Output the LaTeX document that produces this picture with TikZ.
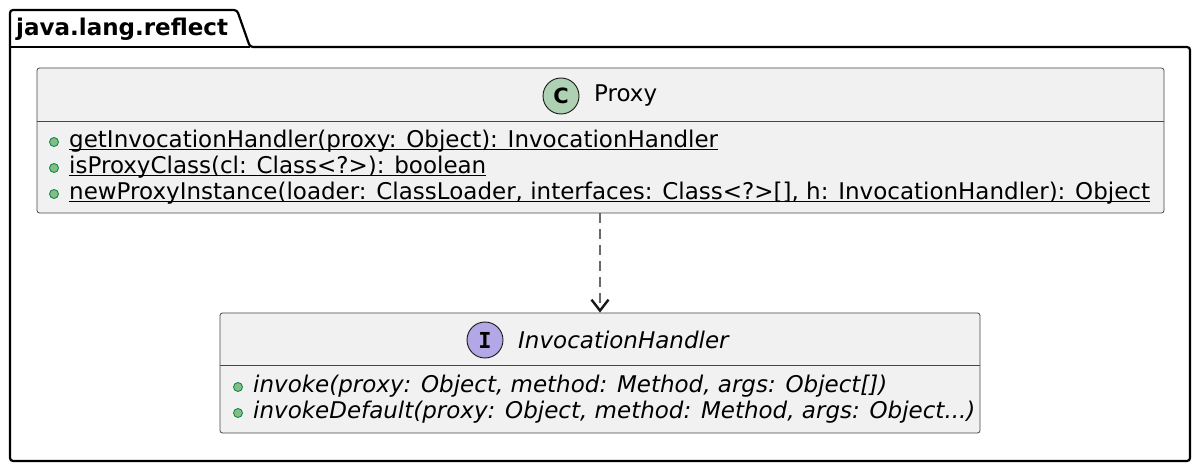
\documentclass[tikz,border=0pt]{standalone}
\usepackage{fontspec}
\setmainfont{DejaVu Sans}
\newfontfamily\monob{DejaVu Sans Mono}
\usetikzlibrary{arrows.meta}
\definecolor{boxfill}{HTML}{F1F1F1}
\definecolor{boxline}{HTML}{181818}
\definecolor{cfill}{HTML}{ADD1B2}
\definecolor{ifill}{HTML}{B4A7E5}
\definecolor{dotfill}{HTML}{84BE84}
\definecolor{dotline}{HTML}{038048}
\newcommand\ulx[1]{\setbox0\hbox{#1}\rlap{\rule[-3pt]{\wd0}{1pt}}\box0}
\tikzset{
  umlbox/.style={draw=boxline!80, fill=boxfill, line width=0.8pt, rounded corners=2.5pt, inner sep=0pt},
  divider/.style={draw=boxline!80, line width=0.8pt},
  mtext/.style={anchor=west, inner sep=0pt, font=\fontsize{23}{27}\selectfont},
  htext/.style={anchor=west, inner sep=0pt, font=\fontsize{23}{27}\selectfont},
  pubdot/.style={circle, fill=dotfill, draw=dotline, line width=0.8pt, minimum size=9pt, inner sep=0pt},
  icon/.style={circle, draw=boxline, line width=0.9pt, minimum size=36pt, inner sep=0pt},
  dep/.style={draw=boxline!65, line width=1.3pt, dash pattern=on 10pt off 6pt, -{Straight Barb[length=11pt,width=17pt,line width=2.4pt,color=boxline]}},
  pkg/.style={draw=black, line width=2.2pt, rounded corners=3pt}
}
\begin{document}
\begin{tikzpicture}[x=1pt,y=-1pt]
\useasboundingbox (0,0) rectangle (1200,470);
% package
\draw[pkg] (10,47) -- (10,10) -- (237,10) -- (250,47) -- (1190,47) -- (1190,461) -- (10,461) -- cycle;
\draw[line width=2.2pt] (10,47) -- (250,47);
\node[anchor=west, inner sep=0pt, font=\bfseries\fontsize{23}{27}\selectfont] (pkgname) at (16,29) {java.lang.reflect};
% Proxy class
\node[umlbox, minimum width=1127pt, minimum height=145pt] (proxy) at (600.5,140.5) {};
\draw[divider] (37,121) -- (1164,121);
\node[icon, fill=cfill, font=\bfseries\fontsize{21}{21}\selectfont] (cicon) at (561,96) {C};
\node[htext] (proxyname) at (594,96) {Proxy};
\node[pubdot] (d1) at (54,142) {};
\node[pubdot] (d2) at (54,168) {};
\node[pubdot] (d3) at (54,194) {};
\node[mtext] (m1) at (69,141) {\ulx{getInvocationHandler(proxy: Object): InvocationHandler}};
\node[mtext] (m2) at (69,167) {\ulx{isProxyClass(cl: Class<?>): boolean}};
\node[mtext] (m3) at (69,193) {\ulx{newProxyInstance(loader: ClassLoader, interfaces: Class<?>[], h: InvocationHandler): Object}};
% InvocationHandler interface
\node[umlbox, minimum width=760pt, minimum height=120pt] (ih) at (600,373) {};
\draw[divider] (220,365) -- (980,365);
\node[icon, fill=ifill, font=\monob\bfseries\fontsize{22}{22}\selectfont] (iicon) at (485,340) {I};
\node[htext, font=\itshape\fontsize{23}{27}\selectfont] (ihname) at (518,340) {InvocationHandler};
\node[pubdot] (d4) at (238,387) {};
\node[pubdot] (d5) at (238,413) {};
\node[mtext, font=\itshape\fontsize{23}{27}\selectfont] (m4) at (253,386) {invoke(proxy: Object, method: Method, args: Object[])};
\node[mtext, font=\itshape\fontsize{23}{27}\selectfont] (m5) at (253,412) {invokeDefault(proxy: Object, method: Method, args: Object...)};
% dependency
\draw[dep] (ih.north |- proxy.south) -- (ih.north);
\end{tikzpicture}
\end{document}
